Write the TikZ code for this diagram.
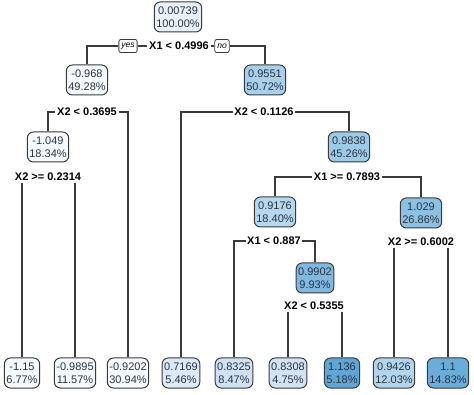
\documentclass[tikz,border=0pt]{standalone}
\usepackage{fontspec}
\setmainfont{Liberation Sans}
\definecolor{ln}{HTML}{3A3A3A}
\definecolor{tx}{HTML}{2A3440}
\definecolor{cW}{HTML}{F5F9FD}
\definecolor{cR}{HTML}{E8F1F9}
\definecolor{cA}{HTML}{A8D0EA}
\definecolor{cB}{HTML}{9DCAE8}
\definecolor{cC}{HTML}{B5D8EE}
\definecolor{cD}{HTML}{8DC1E3}
\definecolor{cE}{HTML}{7FB8E0}
\definecolor{cF}{HTML}{DCEAF6}
\definecolor{cG}{HTML}{CFE2F3}
\definecolor{cH}{HTML}{D2E4F3}
\definecolor{cI}{HTML}{5FA5D6}
\definecolor{cJ}{HTML}{B3D5EC}
\definecolor{cK}{HTML}{6AADDA}
\begin{document}
\begin{tikzpicture}[x=1pt,y=-1pt,
  tnode/.style={draw=ln, line width=1pt, rounded corners=6pt, align=center,
    inner xsep=2pt, inner ysep=1.5pt, minimum height=30pt, text=tx,
    font=\fontsize{11}{13}\selectfont},
  split/.style={font=\bfseries\fontsize{11}{13}\selectfont, text=black, inner sep=1.5pt},
  yn/.style={draw=ln, line width=0.8pt, rounded corners=2pt, font=\itshape\fontsize{8.5}{10}\selectfont,
    inner xsep=2.5pt, inner ysep=1.5pt, minimum height=13pt},
  edge/.style={draw=ln, line width=1.3pt}]
\useasboundingbox (0,0) rectangle (474,395);
% internal nodes
\node[tnode, fill=cR] (n1) at (178,17) {0.00739\\100.00\%};
\node[tnode, fill=cW] (n2) at (87,80) {-0.968\\49.28\%};
\node[tnode, fill=cA] (n3) at (265,80) {0.9551\\50.72\%};
\node[tnode, fill=cW] (n4) at (48,147) {-1.049\\18.34\%};
\node[tnode, fill=cB] (n5) at (349,147) {0.9838\\45.26\%};
\node[tnode, fill=cC] (n6) at (275,212) {0.9176\\18.40\%};
\node[tnode, fill=cD] (n7) at (421,213) {1.029\\26.86\%};
\node[tnode, fill=cE] (n8) at (315,278) {0.9902\\9.93\%};
% leaves
\node[tnode, fill=cW] (l1) at (22,373) {-1.15\\6.77\%};
\node[tnode, fill=cW] (l2) at (75,373) {-0.9895\\11.57\%};
\node[tnode, fill=cW] (l3) at (128,373) {-0.9202\\30.94\%};
\node[tnode, fill=cF] (l4) at (181,373) {0.7169\\5.46\%};
\node[tnode, fill=cG] (l5) at (234,373) {0.8325\\8.47\%};
\node[tnode, fill=cH] (l6) at (288,373) {0.8308\\4.75\%};
\node[tnode, fill=cI] (l7) at (342,373) {1.136\\5.18\%};
\node[tnode, fill=cJ] (l8) at (394,373) {0.9426\\12.03\%};
\node[tnode, fill=cK] (l9) at (448,373) {1.1\\14.83\%};
% split labels
\node[split] (s1) at (179,46) {X1 < 0.4996};
\node[yn] (yes) at (128,46) {yes};
\node[yn] (no) at (222,46) {no};
\node[split] (s2) at (87,112) {X2 < 0.3695};
\node[split] (s4) at (48,177) {X2 >= 0.2314};
\node[split] (s3) at (264,112) {X2 < 0.1126};
\node[split] (s5) at (347,177) {X1 >= 0.7893};
\node[split] (s6) at (274,241) {X1 < 0.887};
\node[split] (s7) at (421,242) {X2 >= 0.6002};
\node[split] (s8) at (314,306) {X2 < 0.5355};
% connectors
\draw[edge] (s1.west) -- (yes.east);
\draw[edge] (s1.east) -- (no.west);
\draw[edge] (yes.west) -| (n2.north);
\draw[edge] (no.east) -| (n3.north);
\draw[edge] (s2.west) -| (n4.north);
\draw[edge] (s2.east) -| (l3.north);
\draw[edge] (s3.west) -| (l4.north);
\draw[edge] (s3.east) -| (n5.north);
\draw[edge] (s5.west) -| (n6.north);
\draw[edge] (s5.east) -| (n7.north);
\draw[edge] (s6.west) -| (l5.north);
\draw[edge] (s6.east) -| (n8.north);
\draw[edge] (l1.north |- s4.south) -- (l1.north);
\draw[edge] (l2.north |- s4.south) -- (l2.north);
\draw[edge] (l8.north |- s7.south) -- (l8.north);
\draw[edge] (l9.north |- s7.south) -- (l9.north);
\draw[edge] (l6.north |- s8.south) -- (l6.north);
\draw[edge] (l7.north |- s8.south) -- (l7.north);
\end{tikzpicture}
\end{document}
